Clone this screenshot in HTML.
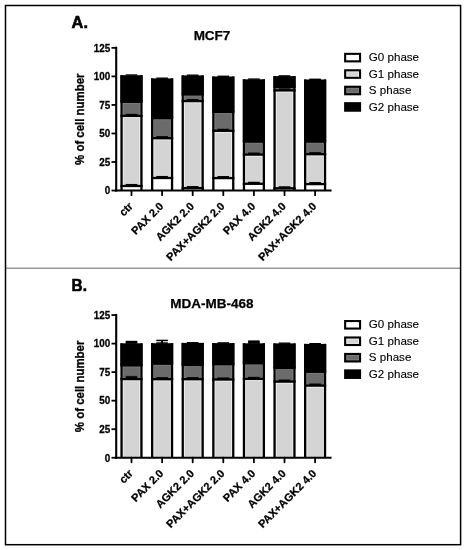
<!DOCTYPE html>
<html><head><meta charset="utf-8"><title>Cell cycle phases</title>
<style>
html,body{margin:0;padding:0;background:#fff;}
body{width:467px;height:550px;overflow:hidden;}
svg{display:block;font-family:"Liberation Sans", Arial, sans-serif;}
</style></head><body>
<svg width="467" height="550" viewBox="0 0 467 550">
<line x1="5" y1="268.2" x2="460" y2="268.2" stroke="#9a9a9a" stroke-width="1.6"/>
<rect x="5.5" y="5.5" width="455.1" height="539.2" fill="none" stroke="#000" stroke-width="1.5"/>
<text x="0" y="0" font-size="16.9" font-weight="bold" stroke="#000" stroke-width="0.6" transform="translate(71.6,28.3) scale(0.97,1)">A.</text>
<text x="212" y="40.4" font-size="13.5" font-weight="bold" stroke="#000" stroke-width="0.25" text-anchor="middle">MCF7</text>
<text x="0" y="0" font-size="12" font-weight="bold" stroke="#000" stroke-width="0.3" text-anchor="middle" textLength="91.5" lengthAdjust="spacingAndGlyphs" transform="translate(84.2,119.2) rotate(-90)">% of cell number</text>
<rect x="120.40" y="75.20" width="22.20" height="26.60" fill="#000"/>
<rect x="122.70" y="101.80" width="17.60" height="14.10" fill="#6b6b6b"/>
<rect x="122.70" y="102.95" width="0.90" height="11.80" fill="#7d7d7d"/>
<rect x="139.40" y="102.95" width="0.90" height="11.80" fill="#7d7d7d"/>
<rect x="122.70" y="102.95" width="17.60" height="0.90" fill="#7d7d7d"/>
<rect x="122.70" y="115.90" width="17.60" height="70.10" fill="#d4d4d4"/>
<rect x="122.70" y="117.05" width="1.00" height="68.95" fill="#ededed"/>
<rect x="139.30" y="117.05" width="1.00" height="68.95" fill="#ededed"/>
<rect x="122.70" y="117.05" width="17.60" height="1.00" fill="#ededed"/>
<rect x="122.70" y="186.00" width="17.60" height="4.55" fill="#fff"/>
<rect x="120.40" y="75.20" width="2.30" height="115.35" fill="#000"/>
<rect x="140.30" y="75.20" width="2.30" height="115.35" fill="#000"/>
<rect x="120.40" y="100.65" width="22.20" height="2.30" fill="#000"/>
<rect x="120.40" y="114.75" width="22.20" height="2.30" fill="#000"/>
<rect x="120.40" y="184.85" width="22.20" height="2.30" fill="#000"/>
<rect x="125.70" y="74.30" width="11.60" height="1.40" fill="#000"/>
<rect x="125.70" y="99.75" width="11.60" height="1.40" fill="#000"/>
<rect x="125.70" y="113.85" width="11.60" height="1.40" fill="#000"/>
<rect x="125.70" y="183.95" width="11.60" height="1.40" fill="#000"/>
<rect x="151.00" y="78.40" width="22.20" height="39.70" fill="#000"/>
<rect x="153.30" y="118.10" width="17.60" height="20.10" fill="#6b6b6b"/>
<rect x="153.30" y="119.25" width="0.90" height="17.80" fill="#7d7d7d"/>
<rect x="170.00" y="119.25" width="0.90" height="17.80" fill="#7d7d7d"/>
<rect x="153.30" y="119.25" width="17.60" height="0.90" fill="#7d7d7d"/>
<rect x="153.30" y="138.20" width="17.60" height="39.80" fill="#d4d4d4"/>
<rect x="153.30" y="139.35" width="1.00" height="38.65" fill="#ededed"/>
<rect x="169.90" y="139.35" width="1.00" height="38.65" fill="#ededed"/>
<rect x="153.30" y="139.35" width="17.60" height="1.00" fill="#ededed"/>
<rect x="153.30" y="178.00" width="17.60" height="12.55" fill="#fff"/>
<rect x="151.00" y="78.40" width="2.30" height="112.15" fill="#000"/>
<rect x="170.90" y="78.40" width="2.30" height="112.15" fill="#000"/>
<rect x="151.00" y="116.95" width="22.20" height="2.30" fill="#000"/>
<rect x="151.00" y="137.05" width="22.20" height="2.30" fill="#000"/>
<rect x="151.00" y="176.85" width="22.20" height="2.30" fill="#000"/>
<rect x="156.30" y="77.50" width="11.60" height="1.40" fill="#000"/>
<rect x="156.30" y="116.05" width="11.60" height="1.40" fill="#000"/>
<rect x="156.30" y="136.15" width="11.60" height="1.40" fill="#000"/>
<rect x="156.30" y="175.95" width="11.60" height="1.40" fill="#000"/>
<rect x="181.60" y="75.40" width="22.20" height="19.00" fill="#000"/>
<rect x="183.90" y="94.40" width="17.60" height="6.70" fill="#6b6b6b"/>
<rect x="183.90" y="95.55" width="0.90" height="4.40" fill="#7d7d7d"/>
<rect x="200.60" y="95.55" width="0.90" height="4.40" fill="#7d7d7d"/>
<rect x="183.90" y="95.55" width="17.60" height="0.90" fill="#7d7d7d"/>
<rect x="183.90" y="101.10" width="17.60" height="87.00" fill="#d4d4d4"/>
<rect x="183.90" y="102.25" width="1.00" height="85.85" fill="#ededed"/>
<rect x="200.50" y="102.25" width="1.00" height="85.85" fill="#ededed"/>
<rect x="183.90" y="102.25" width="17.60" height="1.00" fill="#ededed"/>
<rect x="183.90" y="188.10" width="17.60" height="2.45" fill="#fff"/>
<rect x="181.60" y="75.40" width="2.30" height="115.15" fill="#000"/>
<rect x="201.50" y="75.40" width="2.30" height="115.15" fill="#000"/>
<rect x="181.60" y="93.25" width="22.20" height="2.30" fill="#000"/>
<rect x="181.60" y="99.95" width="22.20" height="2.30" fill="#000"/>
<rect x="181.60" y="186.95" width="22.20" height="2.30" fill="#000"/>
<rect x="186.90" y="74.50" width="11.60" height="1.40" fill="#000"/>
<rect x="186.90" y="92.35" width="11.60" height="1.40" fill="#000"/>
<rect x="186.90" y="99.05" width="11.60" height="1.40" fill="#000"/>
<rect x="186.90" y="186.05" width="11.60" height="1.40" fill="#000"/>
<rect x="212.20" y="76.50" width="22.20" height="35.40" fill="#000"/>
<rect x="214.50" y="111.90" width="17.60" height="18.90" fill="#6b6b6b"/>
<rect x="214.50" y="113.05" width="0.90" height="16.60" fill="#7d7d7d"/>
<rect x="231.20" y="113.05" width="0.90" height="16.60" fill="#7d7d7d"/>
<rect x="214.50" y="113.05" width="17.60" height="0.90" fill="#7d7d7d"/>
<rect x="214.50" y="130.80" width="17.60" height="47.30" fill="#d4d4d4"/>
<rect x="214.50" y="131.95" width="1.00" height="46.15" fill="#ededed"/>
<rect x="231.10" y="131.95" width="1.00" height="46.15" fill="#ededed"/>
<rect x="214.50" y="131.95" width="17.60" height="1.00" fill="#ededed"/>
<rect x="214.50" y="178.10" width="17.60" height="12.45" fill="#fff"/>
<rect x="212.20" y="76.50" width="2.30" height="114.05" fill="#000"/>
<rect x="232.10" y="76.50" width="2.30" height="114.05" fill="#000"/>
<rect x="212.20" y="110.75" width="22.20" height="2.30" fill="#000"/>
<rect x="212.20" y="129.65" width="22.20" height="2.30" fill="#000"/>
<rect x="212.20" y="176.95" width="22.20" height="2.30" fill="#000"/>
<rect x="217.50" y="75.60" width="11.60" height="1.40" fill="#000"/>
<rect x="217.50" y="109.85" width="11.60" height="1.40" fill="#000"/>
<rect x="217.50" y="128.75" width="11.60" height="1.40" fill="#000"/>
<rect x="217.50" y="176.05" width="11.60" height="1.40" fill="#000"/>
<rect x="242.80" y="79.30" width="22.20" height="62.30" fill="#000"/>
<rect x="245.10" y="141.60" width="17.60" height="13.00" fill="#6b6b6b"/>
<rect x="245.10" y="142.75" width="0.90" height="10.70" fill="#7d7d7d"/>
<rect x="261.80" y="142.75" width="0.90" height="10.70" fill="#7d7d7d"/>
<rect x="245.10" y="142.75" width="17.60" height="0.90" fill="#7d7d7d"/>
<rect x="245.10" y="154.60" width="17.60" height="29.20" fill="#d4d4d4"/>
<rect x="245.10" y="155.75" width="1.00" height="28.05" fill="#ededed"/>
<rect x="261.70" y="155.75" width="1.00" height="28.05" fill="#ededed"/>
<rect x="245.10" y="155.75" width="17.60" height="1.00" fill="#ededed"/>
<rect x="245.10" y="183.80" width="17.60" height="6.75" fill="#fff"/>
<rect x="242.80" y="79.30" width="2.30" height="111.25" fill="#000"/>
<rect x="262.70" y="79.30" width="2.30" height="111.25" fill="#000"/>
<rect x="242.80" y="140.45" width="22.20" height="2.30" fill="#000"/>
<rect x="242.80" y="153.45" width="22.20" height="2.30" fill="#000"/>
<rect x="242.80" y="182.65" width="22.20" height="2.30" fill="#000"/>
<rect x="248.10" y="78.40" width="11.60" height="1.40" fill="#000"/>
<rect x="248.10" y="139.55" width="11.60" height="1.40" fill="#000"/>
<rect x="248.10" y="152.55" width="11.60" height="1.40" fill="#000"/>
<rect x="248.10" y="181.75" width="11.60" height="1.40" fill="#000"/>
<rect x="273.40" y="76.10" width="22.20" height="10.80" fill="#000"/>
<rect x="275.70" y="86.90" width="17.60" height="3.50" fill="#6b6b6b"/>
<rect x="275.70" y="88.05" width="0.90" height="1.20" fill="#7d7d7d"/>
<rect x="292.40" y="88.05" width="0.90" height="1.20" fill="#7d7d7d"/>
<rect x="275.70" y="88.05" width="17.60" height="0.90" fill="#7d7d7d"/>
<rect x="275.70" y="90.40" width="17.60" height="97.90" fill="#d4d4d4"/>
<rect x="275.70" y="91.55" width="1.00" height="96.75" fill="#ededed"/>
<rect x="292.30" y="91.55" width="1.00" height="96.75" fill="#ededed"/>
<rect x="275.70" y="91.55" width="17.60" height="1.00" fill="#ededed"/>
<rect x="275.70" y="188.30" width="17.60" height="2.25" fill="#fff"/>
<rect x="273.40" y="76.10" width="2.30" height="114.45" fill="#000"/>
<rect x="293.30" y="76.10" width="2.30" height="114.45" fill="#000"/>
<rect x="273.40" y="85.75" width="22.20" height="2.30" fill="#000"/>
<rect x="273.40" y="89.25" width="22.20" height="2.30" fill="#000"/>
<rect x="273.40" y="187.15" width="22.20" height="2.30" fill="#000"/>
<rect x="278.70" y="75.20" width="11.60" height="1.40" fill="#000"/>
<rect x="278.70" y="84.85" width="11.60" height="1.40" fill="#000"/>
<rect x="278.70" y="88.35" width="11.60" height="1.40" fill="#000"/>
<rect x="278.70" y="186.25" width="11.60" height="1.40" fill="#000"/>
<rect x="304.00" y="79.50" width="22.20" height="62.10" fill="#000"/>
<rect x="306.30" y="141.60" width="17.60" height="12.60" fill="#6b6b6b"/>
<rect x="306.30" y="142.75" width="0.90" height="10.30" fill="#7d7d7d"/>
<rect x="323.00" y="142.75" width="0.90" height="10.30" fill="#7d7d7d"/>
<rect x="306.30" y="142.75" width="17.60" height="0.90" fill="#7d7d7d"/>
<rect x="306.30" y="154.20" width="17.60" height="29.90" fill="#d4d4d4"/>
<rect x="306.30" y="155.35" width="1.00" height="28.75" fill="#ededed"/>
<rect x="322.90" y="155.35" width="1.00" height="28.75" fill="#ededed"/>
<rect x="306.30" y="155.35" width="17.60" height="1.00" fill="#ededed"/>
<rect x="306.30" y="184.10" width="17.60" height="6.45" fill="#fff"/>
<rect x="304.00" y="79.50" width="2.30" height="111.05" fill="#000"/>
<rect x="323.90" y="79.50" width="2.30" height="111.05" fill="#000"/>
<rect x="304.00" y="140.45" width="22.20" height="2.30" fill="#000"/>
<rect x="304.00" y="153.05" width="22.20" height="2.30" fill="#000"/>
<rect x="304.00" y="182.95" width="22.20" height="2.30" fill="#000"/>
<rect x="309.30" y="78.60" width="11.60" height="1.40" fill="#000"/>
<rect x="309.30" y="139.55" width="11.60" height="1.40" fill="#000"/>
<rect x="309.30" y="152.15" width="11.60" height="1.40" fill="#000"/>
<rect x="309.30" y="182.05" width="11.60" height="1.40" fill="#000"/>
<line x1="116.2" y1="46.7" x2="116.2" y2="191.6" stroke="#000" stroke-width="2.1"/>
<line x1="111.5" y1="190.55" x2="116.2" y2="190.55" stroke="#000" stroke-width="1.8"/>
<text x="0" y="0" font-size="11.5" font-weight="bold" stroke="#000" stroke-width="0.3" text-anchor="end" transform="translate(110.2,194.35) scale(0.86,1)">0</text>
<line x1="111.5" y1="162.01" x2="116.2" y2="162.01" stroke="#000" stroke-width="1.8"/>
<text x="0" y="0" font-size="11.5" font-weight="bold" stroke="#000" stroke-width="0.3" text-anchor="end" transform="translate(110.2,165.81) scale(0.86,1)">25</text>
<line x1="111.5" y1="133.47" x2="116.2" y2="133.47" stroke="#000" stroke-width="1.8"/>
<text x="0" y="0" font-size="11.5" font-weight="bold" stroke="#000" stroke-width="0.3" text-anchor="end" transform="translate(110.2,137.27) scale(0.86,1)">50</text>
<line x1="111.5" y1="104.93" x2="116.2" y2="104.93" stroke="#000" stroke-width="1.8"/>
<text x="0" y="0" font-size="11.5" font-weight="bold" stroke="#000" stroke-width="0.3" text-anchor="end" transform="translate(110.2,108.73) scale(0.86,1)">75</text>
<line x1="111.5" y1="76.39" x2="116.2" y2="76.39" stroke="#000" stroke-width="1.8"/>
<text x="0" y="0" font-size="11.5" font-weight="bold" stroke="#000" stroke-width="0.3" text-anchor="end" transform="translate(110.2,80.19) scale(0.86,1)">100</text>
<line x1="111.5" y1="47.85" x2="116.2" y2="47.85" stroke="#000" stroke-width="1.8"/>
<text x="0" y="0" font-size="11.5" font-weight="bold" stroke="#000" stroke-width="0.3" text-anchor="end" transform="translate(110.2,51.65) scale(0.86,1)">125</text>
<line x1="115.2" y1="190.55" x2="331.6" y2="190.55" stroke="#000" stroke-width="2"/>
<line x1="131.50" y1="190.55" x2="131.50" y2="195.15" stroke="#000" stroke-width="1.8" stroke-linecap="round"/>
<text x="0" y="0" font-size="11" font-weight="bold" stroke="#000" stroke-width="0.25" text-anchor="end" transform="translate(133.60,206.85) rotate(-45)">ctr</text>
<line x1="162.10" y1="190.55" x2="162.10" y2="195.15" stroke="#000" stroke-width="1.8" stroke-linecap="round"/>
<text x="0" y="0" font-size="11" font-weight="bold" stroke="#000" stroke-width="0.25" text-anchor="end" transform="translate(164.20,206.85) rotate(-45)">PAX 2.0</text>
<line x1="192.70" y1="190.55" x2="192.70" y2="195.15" stroke="#000" stroke-width="1.8" stroke-linecap="round"/>
<text x="0" y="0" font-size="11" font-weight="bold" stroke="#000" stroke-width="0.25" text-anchor="end" transform="translate(194.80,206.85) rotate(-45)">AGK2 2.0</text>
<line x1="223.30" y1="190.55" x2="223.30" y2="195.15" stroke="#000" stroke-width="1.8" stroke-linecap="round"/>
<text x="0" y="0" font-size="11" font-weight="bold" stroke="#000" stroke-width="0.25" text-anchor="end" transform="translate(225.40,206.85) rotate(-45)">PAX+AGK2 2.0</text>
<line x1="253.90" y1="190.55" x2="253.90" y2="195.15" stroke="#000" stroke-width="1.8" stroke-linecap="round"/>
<text x="0" y="0" font-size="11" font-weight="bold" stroke="#000" stroke-width="0.25" text-anchor="end" transform="translate(256.00,206.85) rotate(-45)">PAX 4.0</text>
<line x1="284.50" y1="190.55" x2="284.50" y2="195.15" stroke="#000" stroke-width="1.8" stroke-linecap="round"/>
<text x="0" y="0" font-size="11" font-weight="bold" stroke="#000" stroke-width="0.25" text-anchor="end" transform="translate(286.60,206.85) rotate(-45)">AGK2 4.0</text>
<line x1="315.10" y1="190.55" x2="315.10" y2="195.15" stroke="#000" stroke-width="1.8" stroke-linecap="round"/>
<text x="0" y="0" font-size="11" font-weight="bold" stroke="#000" stroke-width="0.25" text-anchor="end" transform="translate(317.20,206.85) rotate(-45)">PAX+AGK2 4.0</text>
<rect x="344.10" y="52.80" width="17.00" height="9.60" fill="#000"/>
<rect x="346.20" y="54.90" width="12.80" height="5.40" fill="#ffffff"/>
<rect x="347.20" y="55.90" width="10.80" height="3.40" fill="#ffffff"/>
<text x="368.8" y="61.20" font-size="11.6" fill="#000" stroke="#000" stroke-width="0.12">G0 phase</text>
<rect x="344.10" y="69.25" width="17.00" height="9.60" fill="#000"/>
<rect x="346.20" y="71.35" width="12.80" height="5.40" fill="#ededed"/>
<rect x="347.20" y="72.35" width="10.80" height="3.40" fill="#d4d4d4"/>
<text x="368.8" y="77.65" font-size="11.6" fill="#000" stroke="#000" stroke-width="0.12">G1 phase</text>
<rect x="344.10" y="85.70" width="17.00" height="9.60" fill="#000"/>
<rect x="346.20" y="87.80" width="12.80" height="5.40" fill="#7d7d7d"/>
<rect x="347.20" y="88.80" width="10.80" height="3.40" fill="#6b6b6b"/>
<text x="368.8" y="94.10" font-size="11.6" fill="#000" stroke="#000" stroke-width="0.12">S phase</text>
<rect x="344.10" y="102.15" width="17.00" height="9.60" fill="#000"/>
<rect x="346.20" y="104.25" width="12.80" height="5.40" fill="#000000"/>
<rect x="347.20" y="105.25" width="10.80" height="3.40" fill="#000000"/>
<text x="368.8" y="110.55" font-size="11.6" fill="#000" stroke="#000" stroke-width="0.12">G2 phase</text>
<text x="0" y="0" font-size="16.9" font-weight="bold" stroke="#000" stroke-width="0.6" transform="translate(71.6,291.3) scale(0.91,1)">B.</text>
<text x="212" y="307.6" font-size="13.5" font-weight="bold" stroke="#000" stroke-width="0.25" text-anchor="middle">MDA-MB-468</text>
<text x="0" y="0" font-size="12" font-weight="bold" stroke="#000" stroke-width="0.3" text-anchor="middle" textLength="91.5" lengthAdjust="spacingAndGlyphs" transform="translate(84.2,386.4) rotate(-90)">% of cell number</text>
<rect x="120.40" y="343.30" width="22.20" height="22.05" fill="#000"/>
<rect x="122.70" y="365.35" width="17.60" height="13.75" fill="#6b6b6b"/>
<rect x="122.70" y="366.50" width="0.90" height="11.45" fill="#7d7d7d"/>
<rect x="139.40" y="366.50" width="0.90" height="11.45" fill="#7d7d7d"/>
<rect x="122.70" y="366.50" width="17.60" height="0.90" fill="#7d7d7d"/>
<rect x="122.70" y="379.10" width="17.60" height="78.65" fill="#d4d4d4"/>
<rect x="122.70" y="380.25" width="1.00" height="77.50" fill="#ededed"/>
<rect x="139.30" y="380.25" width="1.00" height="77.50" fill="#ededed"/>
<rect x="122.70" y="380.25" width="17.60" height="1.00" fill="#ededed"/>
<rect x="120.40" y="343.30" width="2.30" height="114.45" fill="#000"/>
<rect x="140.30" y="343.30" width="2.30" height="114.45" fill="#000"/>
<rect x="120.40" y="364.20" width="22.20" height="2.30" fill="#000"/>
<rect x="120.40" y="377.95" width="22.20" height="2.30" fill="#000"/>
<rect x="125.70" y="342.40" width="11.60" height="1.40" fill="#000"/>
<rect x="125.70" y="363.30" width="11.60" height="1.40" fill="#000"/>
<rect x="125.70" y="377.05" width="11.60" height="1.40" fill="#000"/>
<rect x="125.70" y="340.80" width="11.60" height="2.40" fill="#000"/>
<rect x="125.70" y="375.90" width="11.60" height="0.90" fill="#000"/>
<rect x="151.00" y="343.20" width="22.20" height="20.45" fill="#000"/>
<rect x="153.30" y="363.65" width="17.60" height="15.55" fill="#6b6b6b"/>
<rect x="153.30" y="364.80" width="0.90" height="13.25" fill="#7d7d7d"/>
<rect x="170.00" y="364.80" width="0.90" height="13.25" fill="#7d7d7d"/>
<rect x="153.30" y="364.80" width="17.60" height="0.90" fill="#7d7d7d"/>
<rect x="153.30" y="379.20" width="17.60" height="78.55" fill="#d4d4d4"/>
<rect x="153.30" y="380.35" width="1.00" height="77.40" fill="#ededed"/>
<rect x="169.90" y="380.35" width="1.00" height="77.40" fill="#ededed"/>
<rect x="153.30" y="380.35" width="17.60" height="1.00" fill="#ededed"/>
<rect x="151.00" y="343.20" width="2.30" height="114.55" fill="#000"/>
<rect x="170.90" y="343.20" width="2.30" height="114.55" fill="#000"/>
<rect x="151.00" y="362.50" width="22.20" height="2.30" fill="#000"/>
<rect x="151.00" y="378.05" width="22.20" height="2.30" fill="#000"/>
<rect x="156.30" y="342.30" width="11.60" height="1.40" fill="#000"/>
<rect x="156.30" y="361.60" width="11.60" height="1.40" fill="#000"/>
<rect x="156.30" y="377.15" width="11.60" height="1.40" fill="#000"/>
<rect x="156.30" y="339.70" width="11.60" height="1.50" fill="#000"/>
<rect x="181.60" y="342.90" width="22.20" height="22.05" fill="#000"/>
<rect x="183.90" y="364.95" width="17.60" height="14.25" fill="#6b6b6b"/>
<rect x="183.90" y="366.10" width="0.90" height="11.95" fill="#7d7d7d"/>
<rect x="200.60" y="366.10" width="0.90" height="11.95" fill="#7d7d7d"/>
<rect x="183.90" y="366.10" width="17.60" height="0.90" fill="#7d7d7d"/>
<rect x="183.90" y="379.20" width="17.60" height="78.55" fill="#d4d4d4"/>
<rect x="183.90" y="380.35" width="1.00" height="77.40" fill="#ededed"/>
<rect x="200.50" y="380.35" width="1.00" height="77.40" fill="#ededed"/>
<rect x="183.90" y="380.35" width="17.60" height="1.00" fill="#ededed"/>
<rect x="181.60" y="342.90" width="2.30" height="114.85" fill="#000"/>
<rect x="201.50" y="342.90" width="2.30" height="114.85" fill="#000"/>
<rect x="181.60" y="363.80" width="22.20" height="2.30" fill="#000"/>
<rect x="181.60" y="378.05" width="22.20" height="2.30" fill="#000"/>
<rect x="186.90" y="342.00" width="11.60" height="1.40" fill="#000"/>
<rect x="186.90" y="362.90" width="11.60" height="1.40" fill="#000"/>
<rect x="186.90" y="377.15" width="11.60" height="1.40" fill="#000"/>
<rect x="212.20" y="343.10" width="22.20" height="21.05" fill="#000"/>
<rect x="214.50" y="364.15" width="17.60" height="15.35" fill="#6b6b6b"/>
<rect x="214.50" y="365.30" width="0.90" height="13.05" fill="#7d7d7d"/>
<rect x="231.20" y="365.30" width="0.90" height="13.05" fill="#7d7d7d"/>
<rect x="214.50" y="365.30" width="17.60" height="0.90" fill="#7d7d7d"/>
<rect x="214.50" y="379.50" width="17.60" height="78.25" fill="#d4d4d4"/>
<rect x="214.50" y="380.65" width="1.00" height="77.10" fill="#ededed"/>
<rect x="231.10" y="380.65" width="1.00" height="77.10" fill="#ededed"/>
<rect x="214.50" y="380.65" width="17.60" height="1.00" fill="#ededed"/>
<rect x="212.20" y="343.10" width="2.30" height="114.65" fill="#000"/>
<rect x="232.10" y="343.10" width="2.30" height="114.65" fill="#000"/>
<rect x="212.20" y="363.00" width="22.20" height="2.30" fill="#000"/>
<rect x="212.20" y="378.35" width="22.20" height="2.30" fill="#000"/>
<rect x="217.50" y="342.20" width="11.60" height="1.40" fill="#000"/>
<rect x="217.50" y="362.10" width="11.60" height="1.40" fill="#000"/>
<rect x="217.50" y="377.45" width="11.60" height="1.40" fill="#000"/>
<rect x="242.80" y="343.30" width="22.20" height="19.95" fill="#000"/>
<rect x="245.10" y="363.25" width="17.60" height="15.65" fill="#6b6b6b"/>
<rect x="245.10" y="364.40" width="0.90" height="13.35" fill="#7d7d7d"/>
<rect x="261.80" y="364.40" width="0.90" height="13.35" fill="#7d7d7d"/>
<rect x="245.10" y="364.40" width="17.60" height="0.90" fill="#7d7d7d"/>
<rect x="245.10" y="378.90" width="17.60" height="78.85" fill="#d4d4d4"/>
<rect x="245.10" y="380.05" width="1.00" height="77.70" fill="#ededed"/>
<rect x="261.70" y="380.05" width="1.00" height="77.70" fill="#ededed"/>
<rect x="245.10" y="380.05" width="17.60" height="1.00" fill="#ededed"/>
<rect x="242.80" y="343.30" width="2.30" height="114.45" fill="#000"/>
<rect x="262.70" y="343.30" width="2.30" height="114.45" fill="#000"/>
<rect x="242.80" y="362.10" width="22.20" height="2.30" fill="#000"/>
<rect x="242.80" y="377.75" width="22.20" height="2.30" fill="#000"/>
<rect x="248.10" y="342.40" width="11.60" height="1.40" fill="#000"/>
<rect x="248.10" y="361.20" width="11.60" height="1.40" fill="#000"/>
<rect x="248.10" y="376.85" width="11.60" height="1.40" fill="#000"/>
<rect x="248.10" y="340.40" width="11.60" height="2.60" fill="#000"/>
<rect x="273.40" y="343.40" width="22.20" height="24.55" fill="#000"/>
<rect x="275.70" y="367.95" width="17.60" height="13.65" fill="#6b6b6b"/>
<rect x="275.70" y="369.10" width="0.90" height="11.35" fill="#7d7d7d"/>
<rect x="292.40" y="369.10" width="0.90" height="11.35" fill="#7d7d7d"/>
<rect x="275.70" y="369.10" width="17.60" height="0.90" fill="#7d7d7d"/>
<rect x="275.70" y="381.60" width="17.60" height="76.15" fill="#d4d4d4"/>
<rect x="275.70" y="382.75" width="1.00" height="75.00" fill="#ededed"/>
<rect x="292.30" y="382.75" width="1.00" height="75.00" fill="#ededed"/>
<rect x="275.70" y="382.75" width="17.60" height="1.00" fill="#ededed"/>
<rect x="273.40" y="343.40" width="2.30" height="114.35" fill="#000"/>
<rect x="293.30" y="343.40" width="2.30" height="114.35" fill="#000"/>
<rect x="273.40" y="366.80" width="22.20" height="2.30" fill="#000"/>
<rect x="273.40" y="380.45" width="22.20" height="2.30" fill="#000"/>
<rect x="278.70" y="342.50" width="11.60" height="1.40" fill="#000"/>
<rect x="278.70" y="365.90" width="11.60" height="1.40" fill="#000"/>
<rect x="278.70" y="379.55" width="11.60" height="1.40" fill="#000"/>
<rect x="304.00" y="343.90" width="22.20" height="27.85" fill="#000"/>
<rect x="306.30" y="371.75" width="17.60" height="13.85" fill="#6b6b6b"/>
<rect x="306.30" y="372.90" width="0.90" height="11.55" fill="#7d7d7d"/>
<rect x="323.00" y="372.90" width="0.90" height="11.55" fill="#7d7d7d"/>
<rect x="306.30" y="372.90" width="17.60" height="0.90" fill="#7d7d7d"/>
<rect x="306.30" y="385.60" width="17.60" height="72.15" fill="#d4d4d4"/>
<rect x="306.30" y="386.75" width="1.00" height="71.00" fill="#ededed"/>
<rect x="322.90" y="386.75" width="1.00" height="71.00" fill="#ededed"/>
<rect x="306.30" y="386.75" width="17.60" height="1.00" fill="#ededed"/>
<rect x="304.00" y="343.90" width="2.30" height="113.85" fill="#000"/>
<rect x="323.90" y="343.90" width="2.30" height="113.85" fill="#000"/>
<rect x="304.00" y="370.60" width="22.20" height="2.30" fill="#000"/>
<rect x="304.00" y="384.45" width="22.20" height="2.30" fill="#000"/>
<rect x="309.30" y="343.00" width="11.60" height="1.40" fill="#000"/>
<rect x="309.30" y="369.70" width="11.60" height="1.40" fill="#000"/>
<rect x="309.30" y="383.55" width="11.60" height="1.40" fill="#000"/>
<line x1="116.2" y1="313.9" x2="116.2" y2="458.8" stroke="#000" stroke-width="2.1"/>
<line x1="111.5" y1="457.75" x2="116.2" y2="457.75" stroke="#000" stroke-width="1.8"/>
<text x="0" y="0" font-size="11.5" font-weight="bold" stroke="#000" stroke-width="0.3" text-anchor="end" transform="translate(110.2,461.55) scale(0.86,1)">0</text>
<line x1="111.5" y1="429.21" x2="116.2" y2="429.21" stroke="#000" stroke-width="1.8"/>
<text x="0" y="0" font-size="11.5" font-weight="bold" stroke="#000" stroke-width="0.3" text-anchor="end" transform="translate(110.2,433.01) scale(0.86,1)">25</text>
<line x1="111.5" y1="400.67" x2="116.2" y2="400.67" stroke="#000" stroke-width="1.8"/>
<text x="0" y="0" font-size="11.5" font-weight="bold" stroke="#000" stroke-width="0.3" text-anchor="end" transform="translate(110.2,404.47) scale(0.86,1)">50</text>
<line x1="111.5" y1="372.13" x2="116.2" y2="372.13" stroke="#000" stroke-width="1.8"/>
<text x="0" y="0" font-size="11.5" font-weight="bold" stroke="#000" stroke-width="0.3" text-anchor="end" transform="translate(110.2,375.93) scale(0.86,1)">75</text>
<line x1="111.5" y1="343.59" x2="116.2" y2="343.59" stroke="#000" stroke-width="1.8"/>
<text x="0" y="0" font-size="11.5" font-weight="bold" stroke="#000" stroke-width="0.3" text-anchor="end" transform="translate(110.2,347.39) scale(0.86,1)">100</text>
<line x1="111.5" y1="315.05" x2="116.2" y2="315.05" stroke="#000" stroke-width="1.8"/>
<text x="0" y="0" font-size="11.5" font-weight="bold" stroke="#000" stroke-width="0.3" text-anchor="end" transform="translate(110.2,318.85) scale(0.86,1)">125</text>
<line x1="115.2" y1="457.75" x2="331.6" y2="457.75" stroke="#000" stroke-width="2"/>
<line x1="131.50" y1="457.75" x2="131.50" y2="462.35" stroke="#000" stroke-width="1.8" stroke-linecap="round"/>
<text x="0" y="0" font-size="11" font-weight="bold" stroke="#000" stroke-width="0.25" text-anchor="end" transform="translate(133.60,474.05) rotate(-45)">ctr</text>
<line x1="162.10" y1="457.75" x2="162.10" y2="462.35" stroke="#000" stroke-width="1.8" stroke-linecap="round"/>
<text x="0" y="0" font-size="11" font-weight="bold" stroke="#000" stroke-width="0.25" text-anchor="end" transform="translate(164.20,474.05) rotate(-45)">PAX 2.0</text>
<line x1="192.70" y1="457.75" x2="192.70" y2="462.35" stroke="#000" stroke-width="1.8" stroke-linecap="round"/>
<text x="0" y="0" font-size="11" font-weight="bold" stroke="#000" stroke-width="0.25" text-anchor="end" transform="translate(194.80,474.05) rotate(-45)">AGK2 2.0</text>
<line x1="223.30" y1="457.75" x2="223.30" y2="462.35" stroke="#000" stroke-width="1.8" stroke-linecap="round"/>
<text x="0" y="0" font-size="11" font-weight="bold" stroke="#000" stroke-width="0.25" text-anchor="end" transform="translate(225.40,474.05) rotate(-45)">PAX+AGK2 2.0</text>
<line x1="253.90" y1="457.75" x2="253.90" y2="462.35" stroke="#000" stroke-width="1.8" stroke-linecap="round"/>
<text x="0" y="0" font-size="11" font-weight="bold" stroke="#000" stroke-width="0.25" text-anchor="end" transform="translate(256.00,474.05) rotate(-45)">PAX 4.0</text>
<line x1="284.50" y1="457.75" x2="284.50" y2="462.35" stroke="#000" stroke-width="1.8" stroke-linecap="round"/>
<text x="0" y="0" font-size="11" font-weight="bold" stroke="#000" stroke-width="0.25" text-anchor="end" transform="translate(286.60,474.05) rotate(-45)">AGK2 4.0</text>
<line x1="315.10" y1="457.75" x2="315.10" y2="462.35" stroke="#000" stroke-width="1.8" stroke-linecap="round"/>
<text x="0" y="0" font-size="11" font-weight="bold" stroke="#000" stroke-width="0.25" text-anchor="end" transform="translate(317.20,474.05) rotate(-45)">PAX+AGK2 4.0</text>
<rect x="344.10" y="320.00" width="17.00" height="9.60" fill="#000"/>
<rect x="346.20" y="322.10" width="12.80" height="5.40" fill="#ffffff"/>
<rect x="347.20" y="323.10" width="10.80" height="3.40" fill="#ffffff"/>
<text x="368.8" y="328.40" font-size="11.6" fill="#000" stroke="#000" stroke-width="0.12">G0 phase</text>
<rect x="344.10" y="336.45" width="17.00" height="9.60" fill="#000"/>
<rect x="346.20" y="338.55" width="12.80" height="5.40" fill="#ededed"/>
<rect x="347.20" y="339.55" width="10.80" height="3.40" fill="#d4d4d4"/>
<text x="368.8" y="344.85" font-size="11.6" fill="#000" stroke="#000" stroke-width="0.12">G1 phase</text>
<rect x="344.10" y="352.90" width="17.00" height="9.60" fill="#000"/>
<rect x="346.20" y="355.00" width="12.80" height="5.40" fill="#7d7d7d"/>
<rect x="347.20" y="356.00" width="10.80" height="3.40" fill="#6b6b6b"/>
<text x="368.8" y="361.30" font-size="11.6" fill="#000" stroke="#000" stroke-width="0.12">S phase</text>
<rect x="344.10" y="369.35" width="17.00" height="9.60" fill="#000"/>
<rect x="346.20" y="371.45" width="12.80" height="5.40" fill="#000000"/>
<rect x="347.20" y="372.45" width="10.80" height="3.40" fill="#000000"/>
<text x="368.8" y="377.75" font-size="11.6" fill="#000" stroke="#000" stroke-width="0.12">G2 phase</text>
<rect x="161.20" y="340.5" width="1.8" height="3" fill="#000"/>
</svg>
</body></html>
